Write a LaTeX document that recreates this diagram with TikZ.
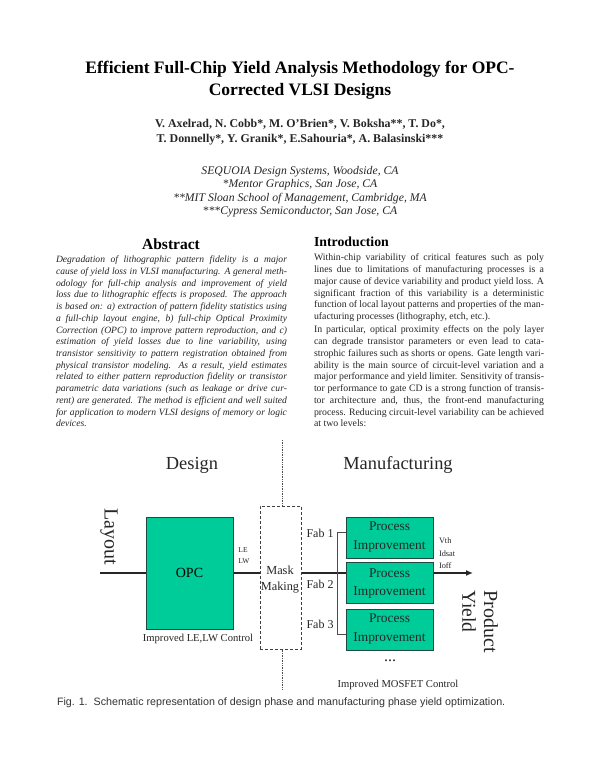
\documentclass[tikz,border=0pt]{standalone}
\usepackage{fontspec}
\usetikzlibrary{arrows.meta}
\setmainfont{Liberation Serif}
\newfontfamily\capfont{Liberation Sans}
\definecolor{boxgreen}{HTML}{00CC99}
\definecolor{boxedge}{HTML}{1F4A40}
\newlength{\jw}
\newcommand{\jl}[1]{\makebox[\jw][s]{#1}\par}
\newcommand{\lastl}[1]{\makebox[\jw][l]{#1}\par}
\tikzset{
 x=1pt,y=-1pt,
 txt/.style={inner sep=0pt,outer sep=0pt,text=black!85},
 titletxt/.style={txt,font=\fontsize{17.5}{18}\selectfont\bfseries,text=black},
 authortxt/.style={txt,font=\fontsize{11.9}{12}\selectfont\bfseries},
 affil/.style={txt,font=\fontsize{11.7}{12}\selectfont\itshape},
 columntxt/.style={txt,anchor=north west,font=\fontsize{9.8}{11.75}\selectfont},
 greenbox/.style={draw=boxedge,fill=boxgreen,line width=1pt,inner sep=0pt},
 maskbox/.style={draw=black!75,line width=1pt,inner sep=0pt,dash pattern=on 3pt off 2pt},
 thickline/.style={draw=black!85,line width=1.6pt},
 thinline/.style={draw=black!70,line width=1pt},
 sepline/.style={draw=black!70,densely dotted,line width=.7pt},
 bigtxt/.style={txt,font=\fontsize{18.4}{20}\selectfont},
 proc/.style={txt,font=\fontsize{13.4}{18.8}\selectfont,align=center},
 fab/.style={txt,font=\fontsize{12}{14}\selectfont},
 smalltxt/.style={txt,font=\fontsize{7.5}{11}\selectfont,align=left},
 notetxt/.style={txt,font=\fontsize{10.6}{12}\selectfont},
}
\begin{document}
\begin{tikzpicture}
\useasboundingbox[fill=white] (0,0) rectangle (600,776);
% header
\node[titletxt] (t1) at (300,69) {Efficient Full-Chip Yield Analysis Methodology for OPC-};
\node[titletxt] (t2) at (300,91) {Corrected VLSI Designs};
\node[authortxt] (a1) at (300,124.5) {V. Axelrad, N. Cobb*, M. O’Brien*, V. Boksha**, T. Do*,};
\node[authortxt] (a2) at (300,139.5) {T. Donnelly*, Y. Granik*, E.Sahouria*, A. Balasinski***};
\node[affil] (f1) at (300,171.5) {SEQUOIA Design Systems, Woodside, CA};
\node[affil] (f2) at (300,185) {*Mentor Graphics, San Jose, CA};
\node[affil] (f3) at (300,198.5) {**MIT Sloan School of Management, Cambridge, MA};
\node[affil] (f4) at (300,212) {***Cypress Semiconductor, San Jose, CA};
\node[txt,font=\fontsize{15.5}{16}\selectfont\bfseries,text=black] (hab) at (171,244) {Abstract};
\node[txt,anchor=west,font=\fontsize{13.8}{15}\selectfont\bfseries,text=black] (hin) at (314,242) {Introduction};
% abstract
\node[columntxt,font=\fontsize{9.6}{11.72}\selectfont\itshape] (abs) at (56,256) {\setlength{\jw}{231pt}\begin{minipage}[t]{231pt}\parindent=0pt\parskip=0pt
\jl{Degradation of lithographic pattern fidelity is a major}
\jl{cause of yield loss in VLSI manufacturing. A general meth-}
\jl{odology for full-chip analysis and improvement of yield}
\jl{loss due to lithographic effects is proposed. The approach}
\jl{is based on: a) extraction of pattern fidelity statistics using}
\jl{a full-chip layout engine, b) full-chip Optical Proximity}
\jl{Correction (OPC) to improve pattern reproduction, and c)}
\jl{estimation of yield losses due to line variability, using}
\jl{transistor sensitivity to pattern registration obtained from}
\jl{physical transistor modeling. As a result, yield estimates}
\jl{related to either pattern reproduction fidelity or transistor}
\jl{parametric data variations (such as leakage or drive cur-}
\jl{rent) are generated. The method is efficient and well suited}
\jl{for application to modern VLSI designs of memory or logic}
\lastl{devices.}
\end{minipage}};
% introduction
\node[columntxt] (in1) at (314,254) {\setlength{\jw}{230pt}\begin{minipage}[t]{230pt}\parindent=0pt\parskip=0pt
\jl{Within-chip variability of critical features such as poly}
\jl{lines due to limitations of manufacturing processes is a}
\jl{major cause of device variability and product yield loss. A}
\jl{significant fraction of this variability is a deterministic}
\jl{function of local layout patterns and properties of the man-}
\lastl{ufacturing processes (lithography, etch, etc.).}
\end{minipage}};
\node[columntxt] (in2) at (314,326) {\setlength{\jw}{230pt}\begin{minipage}[t]{230pt}\parindent=0pt\parskip=0pt
\jl{In particular, optical proximity effects on the poly layer}
\jl{can degrade transistor parameters or even lead to cata-}
\jl{strophic failures such as shorts or opens. Gate length vari-}
\jl{ability is the main source of circuit-level variation and a}
\jl{major performance and yield limiter. Sensitivity of transis-}
\jl{tor performance to gate CD is a strong function of transis-}
\jl{tor architecture and, thus, the front-end manufacturing}
\jl{process. Reducing circuit-level variability can be achieved}
\lastl{at two levels:}
\end{minipage}};
% diagram
\coordinate (sepA) at (282,440);
\coordinate (sepB) at (282,690);
\coordinate (inp) at (100,573);
\coordinate (outp) at (473,573);
\coordinate (bt) at (337,532);
\coordinate (bb) at (337,634);
\node[bigtxt] (design) at (192,465) {Design};
\node[bigtxt] (manu) at (398,465) {Manufacturing};
\node[greenbox,minimum width=87pt,minimum height=112pt,font=\fontsize{14}{16}\selectfont] (opc) at (189.5,573) {OPC};
\node[maskbox,minimum width=41pt,minimum height=143pt] (mask) at (280.5,577.5) {};
\node[greenbox,minimum width=87pt,minimum height=41pt] (p1) at (389.5,537.5) {};
\node[greenbox,minimum width=87pt,minimum height=41pt] (p2) at (389.5,583) {};
\node[greenbox,minimum width=87pt,minimum height=41pt] (p3) at (389.5,629.5) {};
\draw[sepline] (sepA) -- (mask.north -| sepA);
\draw[sepline] (mask.south -| sepB) -- (sepB);
\draw[thickline] (inp) -- (opc.west);
\draw[thickline] (opc.east) -- (mask.west |- opc.east);
\draw[thickline] (mask.east |- opc.east) -- (p2.west |- opc.east);
\draw[thickline,-{Latex[length=7pt,width=6pt]}] (p2.east |- opc.east) -- (outp);
\draw[thinline] (p1.west |- bt) -- (bt) -- (bb) -- (p3.west |- bb);
\node[txt,rotate=-90,font=\fontsize{20}{20}\selectfont] (layout) at (109,537) {Layout};
\node[smalltxt] (lelw) at (244,555.5) {LE\\LW};
\node[txt,font=\fontsize{12.3}{16}\selectfont,align=center] (mm) at (280,580) {Mask\\Making};
\node[fab] (f1l) at (320,533) {Fab 1};
\node[fab] (f2l) at (320,584) {Fab 2};
\node[fab] (f3l) at (320,624) {Fab 3};
\node[proc] (t1p) at (389.5,537) {Process\\Improvement};
\node[proc] (t2p) at (389.5,583.5) {Process\\Improvement};
\node[proc] (t3p) at (389.5,629) {Process\\Improvement};
\node[txt,anchor=west,font=\fontsize{8.3}{12.5}\selectfont,align=left] (vth) at (439,553.5) {Vth\\Idsat\\Ioff};
\node[txt,rotate=-90,font=\fontsize{20}{20}\selectfont] (prod) at (491,621.5) {Product};
\node[txt,rotate=-90,font=\fontsize{19.6}{20}\selectfont] (yield) at (469,611.5) {Yield};
\node[txt,font=\fontsize{16}{16}\selectfont] (dots) at (390,661) {...};
\node[notetxt] (imp1) at (198,639) {Improved LE,LW Control};
\node[notetxt] (imp2) at (398,685) {Improved MOSFET Control};
\node[txt,anchor=west,font=\capfont\fontsize{10.7}{12}\selectfont,text=black!80] (cap) at (57,703) {Fig. 1.\ \ Schematic representation of design phase and manufacturing phase yield optimization.};
\end{tikzpicture}
\end{document}
